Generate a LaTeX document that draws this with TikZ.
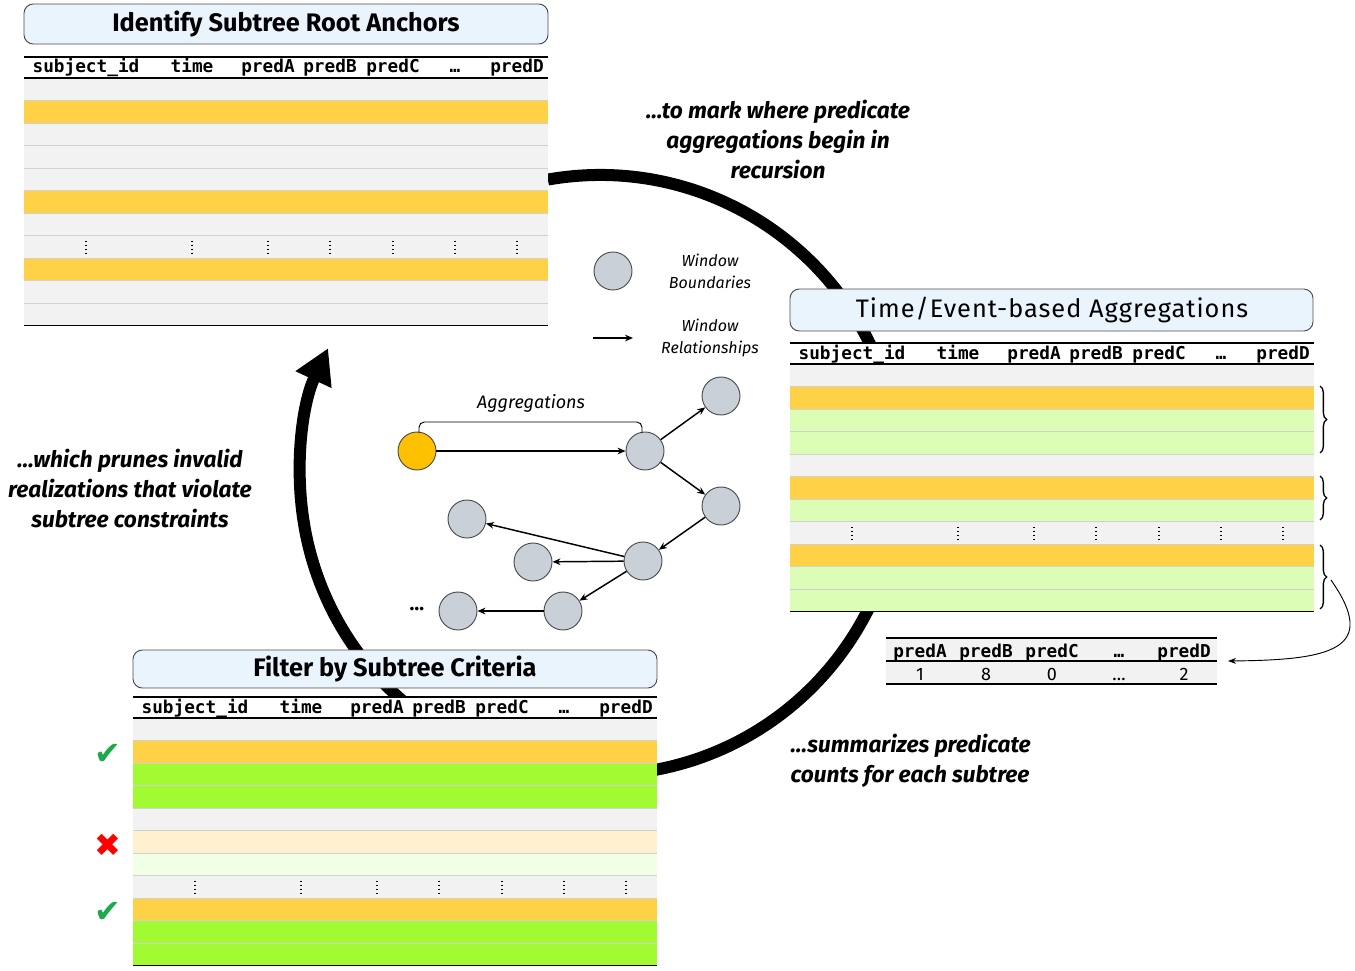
\documentclass[tikz,border=0pt]{standalone}
\usepackage{fontspec}
\setmainfont{Fira Sans}
\newfontfamily\monob{DejaVu Sans Mono}
\newfontfamily\djv{DejaVu Sans}
\newfontfamily\fsm{Fira Sans}[LetterSpace=4]
\usetikzlibrary{arrows.meta,decorations.pathreplacing}
\definecolor{rgray}{HTML}{F2F2F2}
\definecolor{ryel}{HTML}{FFD146}
\definecolor{rlg}{HTML}{DBFDB5}
\definecolor{rbg}{HTML}{A2FA32}
\definecolor{rly}{HTML}{FFF0D0}
\definecolor{rvlg}{HTML}{F0FFE6}
\definecolor{tbox}{HTML}{EAF4FD}
\definecolor{nodeg}{HTML}{C9D0D7}
\definecolor{orng}{HTML}{FFC000}
\definecolor{ckg}{HTML}{1DAA4A}
\tikzset{
 title/.style={draw=black!70,fill=tbox,rounded corners=7pt,line width=0.7pt},
 ttext/.style={font=\bfseries\fontsize{19}{22}\selectfont},
 htext/.style={font=\monob\bfseries\fontsize{13.3}{15}\selectfont},
 rowline/.style={draw=black!18,line width=0.5pt},
 gn/.style={circle,draw=black!70,fill=nodeg,minimum size=28.5pt,inner sep=0pt,line width=0.7pt},
 ge/.style={-{Stealth[length=6pt,width=5pt]},line width=1.1pt},
 note/.style={font=\bfseries\itshape\fontsize{17}{22.5}\selectfont,align=center},
 leg/.style={font=\itshape\fontsize{12}{16.5}\selectfont,align=center},
}
% #1 x-left, #2 header top y, #3 colours, #4 dots row index
\newcommand\mytbl[4]{%
 \fill[white] (#1,#2) rectangle ++(524,21);
 \foreach \c [count=\i from 0] in {#3} {
   \fill[\c] (#1,{#2+21+\i*22.5}) rectangle ++(524,22.5);
   \draw[rowline] (#1,{#2+21+\i*22.5}) -- ++(524,0);
 }
 \foreach \dx in {62,168,244,306,369,431,493}
   \draw[dotted,line width=1pt] ({#1+\dx},{#2+21+#4*22.5+5}) -- ++(0,13);
 \draw[line width=1.2pt] (#1,#2) -- ++(524,0);
 \draw[line width=1pt] (#1,{#2+21}) -- ++(524,0);
 \draw[line width=1.4pt] (#1,{#2+21+11*22.5}) -- ++(524,0);
 \foreach \dx/\t in {62/subject\_id,168/time,244/predA,306/predB,369/predC,431/…,493/predD}
   \node[htext,anchor=base] at ({#1+\dx},{#2+16}) {\t};
}
\begin{document}
\begin{tikzpicture}[x=0.75pt,y=-0.75pt]
\useasboundingbox (0,0) rectangle (1355,970);
% big cycle arrow
\coordinate (cc) at (600,475);
\draw[line width=9pt,-{Triangle[length=26pt,width=28pt]}] (cc) ++(-100:300) arc[start angle=-100,end angle=205,radius=300];
% table 1
\mytbl{24}{57}{rgray,ryel,rgray,rgray,rgray,ryel,rgray,rgray,ryel,rgray,rgray}{7}
\draw[title] (24,4) rectangle (548,44);
\node[ttext] (t1) at (286,24) {Identify Subtree Root Anchors};
% table 2
\mytbl{790}{343}{rgray,ryel,rlg,rlg,rgray,ryel,rlg,rgray,ryel,rlg,rlg}{7}
\draw[title] (790,289) rectangle (1313,331);
\node[ttext,font=\fsm\fontsize{19}{22}\selectfont] (t2) at (1052,310) {Time/Event-based Aggregations};
% table 3
\mytbl{133}{697}{rgray,ryel,rbg,rbg,rgray,rly,rvlg,rgray,ryel,rbg,rbg}{7}
\draw[title] (133,650) rectangle (657,688);
\node[ttext] (t3) at (395,669) {Filter by Subtree Criteria};
% braces
\foreach \a/\b in {386/453,476/520,545/609}
  \draw[line width=1pt,decorate,decoration={brace,amplitude=5pt}] (1320,\a) -- (1320,\b);
% summary table
\fill[rgray] (886,638) rectangle (1217,684);
\draw[line width=1.2pt] (886,638) -- (1217,638);
\draw[line width=1pt] (886,661) -- (1217,661);
\draw[line width=1.2pt] (886,684) -- (1217,684);
\foreach \x/\h/\v in {920/predA/1,986/predB/8,1052/predC/0,1119/…/…,1184/predD/2}{
  \node[htext,anchor=base] at (\x,657) {\h};
  \node[font=\fontsize{13.5}{14}\selectfont,anchor=base] at (\x,680) {\v};
}
\coordinate (sumin) at (1228,661);
\coordinate (brc) at (1331,580);
\draw[-{Stealth[length=6pt]},line width=0.7pt] (brc) .. controls (1380,650) and (1330,660) .. (sumin);
% checks
\node[text=ckg,font=\djv\fontsize{24}{24}\selectfont] (ck1) at (108,754) {✔};
\node[text=red,font=\djv\fontsize{24}{24}\selectfont] (xx) at (108,845) {✖};
\node[text=ckg,font=\djv\fontsize{24}{24}\selectfont] (ck2) at (108,912) {✔};
% notes
\node[note] (n1) at (778,140) {…to mark where predicate\\aggregations begin in\\recursion};
\node[note] (n2) at (130,489) {…which prunes invalid\\realizations that violate\\subtree constraints};
\node[note,align=left,anchor=west] (n3) at (786,761) {…summarizes predicate\\counts for each subtree};
% legend
\node[gn] (lg) at (613,271) {};
\node[leg] (lgt) at (710,271) {Window\\Boundaries};
\coordinate (la) at (593,338); \coordinate (lb) at (633,338);
\draw[ge] (la) -- (lb);
\node[leg] (lrt) at (710,338) {Window\\Relationships};
% graph
\node[gn,fill=orng] (o) at (417,451) {};
\node[gn] (a) at (645,451) {};
\node[gn] (b) at (721,396) {};
\node[gn] (c) at (721,506) {};
\node[gn] (d) at (643,561) {};
\node[gn] (e) at (467,519) {};
\node[gn] (f) at (533,562) {};
\node[gn] (g) at (563,611) {};
\node[gn] (h) at (458,611) {};
\node[font=\bfseries\fontsize{15}{15}\selectfont] (dots) at (417,609) {…};
\foreach \u/\v in {o/a,a/b,a/c,c/d,d/e,d/f,d/g,g/h} \draw[ge] (\u) -- (\v);
\draw[line width=0.7pt,rounded corners=4pt] (419,433) -- (419,422) -- (642,422) -- (642,433);
\node[leg,font=\itshape\fontsize{13.5}{16}\selectfont] (agg) at (531,403) {Aggregations};
\end{tikzpicture}
\end{document}
